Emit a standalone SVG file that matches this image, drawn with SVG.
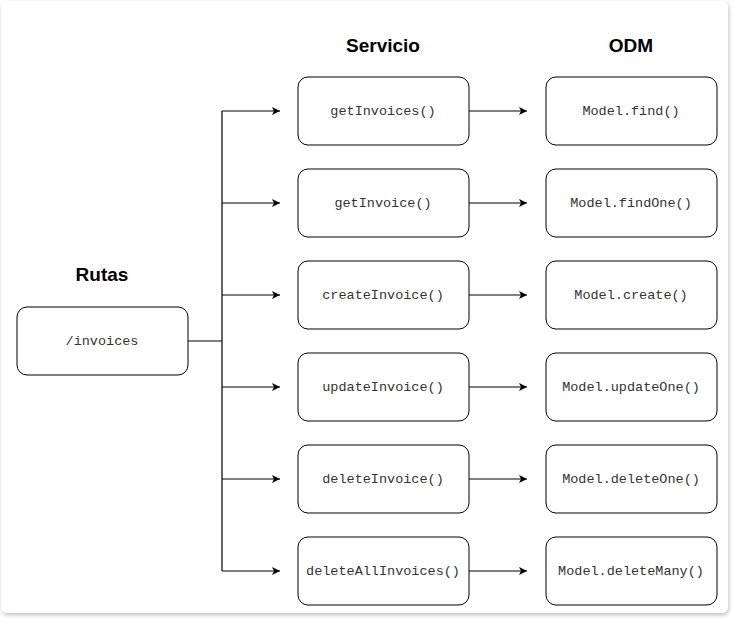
<svg xmlns="http://www.w3.org/2000/svg" width="734" height="622" viewBox="0 0 734 622">
<defs>
<filter id="sh" x="-5%" y="-5%" width="110%" height="110%"><feDropShadow dx="1" dy="2" stdDeviation="2" flood-color="#000" flood-opacity="0.25"/></filter>
<marker id="ar" viewBox="0 0 10 10" refX="10" refY="5" markerWidth="8" markerHeight="8" markerUnits="userSpaceOnUse" orient="auto"><path d="M0,0 L10,5 L0,10 L2.5,5 z" fill="#000"/></marker>
</defs>
<style>
.b{fill:#fff;stroke:#000;stroke-width:1}
.t{font-family:"Liberation Mono",monospace;font-size:13.5px;fill:#333;text-anchor:middle;dominant-baseline:central}
.h{font-family:"Liberation Sans",Arial,sans-serif;font-size:19px;font-weight:bold;text-anchor:middle}
.c{fill:none;stroke:#000;stroke-width:1.2}
</style>
<rect x="1" y="1" width="727" height="612" rx="6" fill="#fff" filter="url(#sh)"/>
<text class="h" x="383" y="52">Servicio</text>
<text class="h" x="631" y="52">ODM</text>
<text class="h" x="102" y="281">Rutas</text>
<g id="connectors">
<path class="c" d="M188,341 H222 M222,111 V571"/>
<path class="c" marker-end="url(#ar)" d="M222,111 H280"/>
<path class="c" marker-end="url(#ar)" d="M222,203 H280"/>
<path class="c" marker-end="url(#ar)" d="M222,295 H280"/>
<path class="c" marker-end="url(#ar)" d="M222,387 H280"/>
<path class="c" marker-end="url(#ar)" d="M222,479 H280"/>
<path class="c" marker-end="url(#ar)" d="M222,571 H280"/>
<path class="c" marker-end="url(#ar)" d="M469,111 H527"/>
<path class="c" marker-end="url(#ar)" d="M469,203 H527"/>
<path class="c" marker-end="url(#ar)" d="M469,295 H527"/>
<path class="c" marker-end="url(#ar)" d="M469,387 H527"/>
<path class="c" marker-end="url(#ar)" d="M469,479 H527"/>
<path class="c" marker-end="url(#ar)" d="M469,571 H527"/>
</g>
<g id="rutas"><rect class="b" x="17" y="307" width="171" height="68" rx="10"/><text class="t" x="102" y="341">/invoices</text></g>
<g id="s1"><rect class="b" x="298" y="77" width="171" height="68" rx="10"/><text class="t" x="383" y="111">getInvoices()</text></g>
<g id="s2"><rect class="b" x="298" y="169" width="171" height="68" rx="10"/><text class="t" x="383" y="203">getInvoice()</text></g>
<g id="s3"><rect class="b" x="298" y="261" width="171" height="68" rx="10"/><text class="t" x="383" y="295">createInvoice()</text></g>
<g id="s4"><rect class="b" x="298" y="353" width="171" height="68" rx="10"/><text class="t" x="383" y="387">updateInvoice()</text></g>
<g id="s5"><rect class="b" x="298" y="445" width="171" height="68" rx="10"/><text class="t" x="383" y="479">deleteInvoice()</text></g>
<g id="s6"><rect class="b" x="298" y="537" width="171" height="68" rx="10"/><text class="t" x="383" y="571">deleteAllInvoices()</text></g>
<g id="o1"><rect class="b" x="546" y="77" width="171" height="68" rx="10"/><text class="t" x="631" y="111">Model.find()</text></g>
<g id="o2"><rect class="b" x="546" y="169" width="171" height="68" rx="10"/><text class="t" x="631" y="203">Model.findOne()</text></g>
<g id="o3"><rect class="b" x="546" y="261" width="171" height="68" rx="10"/><text class="t" x="631" y="295">Model.create()</text></g>
<g id="o4"><rect class="b" x="546" y="353" width="171" height="68" rx="10"/><text class="t" x="631" y="387">Model.updateOne()</text></g>
<g id="o5"><rect class="b" x="546" y="445" width="171" height="68" rx="10"/><text class="t" x="631" y="479">Model.deleteOne()</text></g>
<g id="o6"><rect class="b" x="546" y="537" width="171" height="68" rx="10"/><text class="t" x="631" y="571">Model.deleteMany()</text></g>
</svg>
